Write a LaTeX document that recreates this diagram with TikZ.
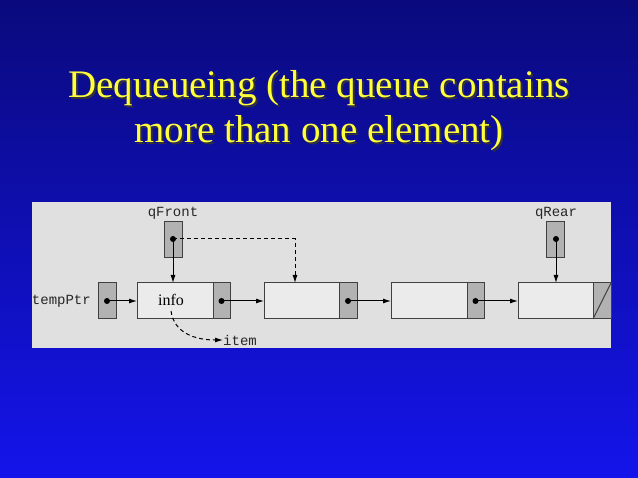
\documentclass[tikz,border=0pt]{standalone}
\usepackage{fontspec}
\setmainfont{Liberation Serif}
\setmonofont{Liberation Mono}
\usetikzlibrary{arrows.meta}
\begin{document}
\begin{tikzpicture}[x=1pt,y=-1pt,
  cell/.style={draw=black!75,line width=1pt,fill=black!8},
  ptr/.style={draw=black!75,line width=1pt,fill=black!30},
  dot/.style={circle,fill=black,inner sep=0pt,minimum size=6pt},
  arr/.style={-{Latex[length=8pt,width=5pt]},line width=1pt},
  dsh/.style={dash pattern=on 4pt off 3pt},
  lab/.style={font=\ttfamily\fontsize{14}{15}\selectfont,text=black!85,inner sep=0pt},
  ttl/.style={font=\fontsize{39}{45}\selectfont,align=center,inner sep=0pt}]
\useasboundingbox (0,0) rectangle (638,478);
\shade[top color={rgb,255:red,10;green,10;blue,125},bottom color={rgb,255:red,20;green,20;blue,235}] (0,0) rectangle (638,478);
\node[ttl,text=black!80] (shadow) at (321,113) {Dequeueing (the queue contains\\more than one element)};
\node[ttl,text={rgb,255:red,255;green,255;blue,60}] (title) at (319,111) {Dequeueing (the queue contains\\more than one element)};
\fill[black!12] (32,202) rectangle (611,348);
% qFront
\node[lab] (qfl) at (173,213) {qFront};
\draw[ptr] (164,222) rectangle (182,258);
\node[dot] (qf) at (173,239) {};
% qRear
\node[lab] (qrl) at (556,213) {qRear};
\draw[ptr] (546,222) rectangle (564,258);
\node[dot] (qr) at (556,239) {};
% tempPtr
\node[lab,anchor=east] (tpl) at (91,301) {tempPtr};
\draw[ptr] (98,283) rectangle (116,319);
\node[dot] (tp) at (107,301) {};
% nodes
\draw[cell] (137,283) rectangle (213,319);
\draw[ptr] (213,283) rectangle (230,319);
\node[font=\fontsize{16}{17}\selectfont,inner sep=0pt] (info) at (171,300) {info};
\node[dot] (p1) at (221.5,301) {};
\draw[cell] (264,283) rectangle (339,319);
\draw[ptr] (339,283) rectangle (357,319);
\node[dot] (p2) at (348,301) {};
\draw[cell] (391,283) rectangle (467,319);
\draw[ptr] (467,283) rectangle (484,319);
\node[dot] (p3) at (475.5,301) {};
\draw[cell] (518,283) rectangle (593,319);
\draw[ptr] (593,283) rectangle (611,319);
\draw[line width=1pt,black!75] (593,319) -- (611,283);
\coordinate (n1w) at (137,301);
\coordinate (n1n) at (173,283);
\coordinate (n2w) at (264,301);
\coordinate (n2n) at (295,283);
\coordinate (n3w) at (391,301);
\coordinate (n4w) at (518,301);
\coordinate (n4n) at (556,283);
\draw[arr] (tp.center) -- (n1w);
\draw[arr] (qf.center) -- (n1n);
\draw[arr] (p1.center) -- (n2w);
\draw[arr] (p2.center) -- (n3w);
\draw[arr] (p3.center) -- (n4w);
\draw[arr] (qr.center) -- (n4n);
\draw[arr,dsh] (qf.center) -- (295,239) -- (n2n);
\node[lab,anchor=west] (item) at (223,340) {item};
\draw[arr,dsh] (171,311) .. controls (174,333) and (195,340) .. (item.west);
\end{tikzpicture}
\end{document}
